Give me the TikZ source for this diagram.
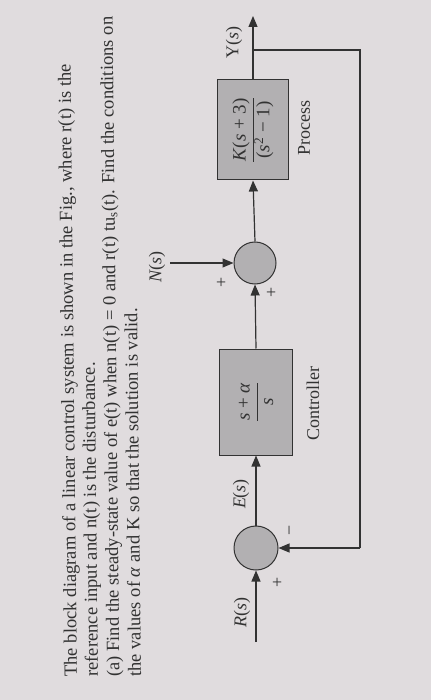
\documentclass[tikz,border=0pt]{standalone}
\usepackage{fontspec}
\setmainfont{Liberation Serif}
\usetikzlibrary{arrows.meta}
\definecolor{bgpaper}{RGB}{224,220,222}
\definecolor{blockfill}{RGB}{178,176,178}
\definecolor{ink}{RGB}{50,50,50}
\begin{document}
\begin{tikzpicture}[x=1pt,y=-1pt,
  every node/.style={text=ink},
  blockbox/.style={draw=ink, line width=1pt, fill=blockfill, rotate=90, inner sep=0pt, font=\fontsize{19}{22}\selectfont},
  sumnode/.style={draw=ink, line width=1pt, fill=blockfill, circle, inner sep=0pt},
  lbl/.style={rotate=90, font=\fontsize{18}{20}\selectfont, inner sep=0pt},
  bodytext/.style={rotate=90.6, anchor=base west, font=\fontsize{18.6}{20}\selectfont, inner sep=0pt},
  sig/.style={draw=ink, line width=1.2pt, -{Triangle[length=11pt,width=9pt]}},
  wire/.style={draw=ink, line width=1.2pt}]
\fill[bgpaper] (0,0) rectangle (431,700);
\useasboundingbox (0,0) rectangle (431,700);

\node[bodytext] (t1) at (77,677) {The block diagram of a linear control system is shown in the Fig., where r(t) is the};
\node[bodytext] (t2) at (98,677) {reference input and n(t) is the disturbance.};
\node[bodytext] (t3) at (119.5,677) {(a) Find the steady-state value of e(t) when n(t) = 0 and r(t) tu\textsubscript{s}(t). Find the conditions on};
\node[bodytext] (t4) at (141,677) {the values of \textit{α} and K so that the solution is valid.};

\node[sumnode, minimum size=44pt] (s1) at (256,548) {};
\node[sumnode, minimum size=42pt] (s2) at (255,263) {};
\node[blockbox, minimum width=106pt, minimum height=73pt] (ctrl) at (256,402)
  {$\displaystyle\frac{\mbox{\textit{s} + \textit{α}}}{\mbox{\textit{s}}}$};
\node[blockbox, minimum width=100pt, minimum height=71pt] (proc) at (253,130)
  {$\displaystyle\frac{\mbox{\textit{K}(\textit{s} + 3)}}{\mbox{(\textit{s}\textsuperscript{2} − 1)}}$};

\coordinate (rin) at (256,642);
\coordinate (yout) at (253,16);
\coordinate (br) at (253,50);
\coordinate (fb1) at (360,50);
\coordinate (fb2) at (360,548);
\coordinate (nin) at (170,263);

\draw[sig] (rin) -- (s1.south);
\draw[sig] (s1.north) -- (ctrl.west);
\draw[sig] (ctrl.east) -- (s2.south);
\draw[sig] (s2.north) -- (proc.west);
\draw[sig] (proc.east) -- (yout);
\draw[wire] (br) -- (fb1) -- (fb2);
\draw[sig] (fb2) -- (s1.east);
\draw[sig] (nin) -- (s2.west);

\node[lbl] (lr) at (242,612) {\textit{R}(\textit{s})};
\node[lbl] (le) at (241,494) {\textit{E}(\textit{s})};
\node[lbl] (ln) at (157,267) {\textit{N}(\textit{s})};
\node[lbl] (ly) at (234,43) {Y(\textit{s})};
\node[lbl] (lc) at (313,404) {Controller};
\node[lbl] (lp) at (304,128) {Process};
\node[lbl] (p1) at (278,582) {+};
\node[lbl] (m1) at (292,530) {−};
\node[lbl] (p2) at (222,282) {+};
\node[lbl] (p3) at (272,292) {+};
\end{tikzpicture}
\end{document}
